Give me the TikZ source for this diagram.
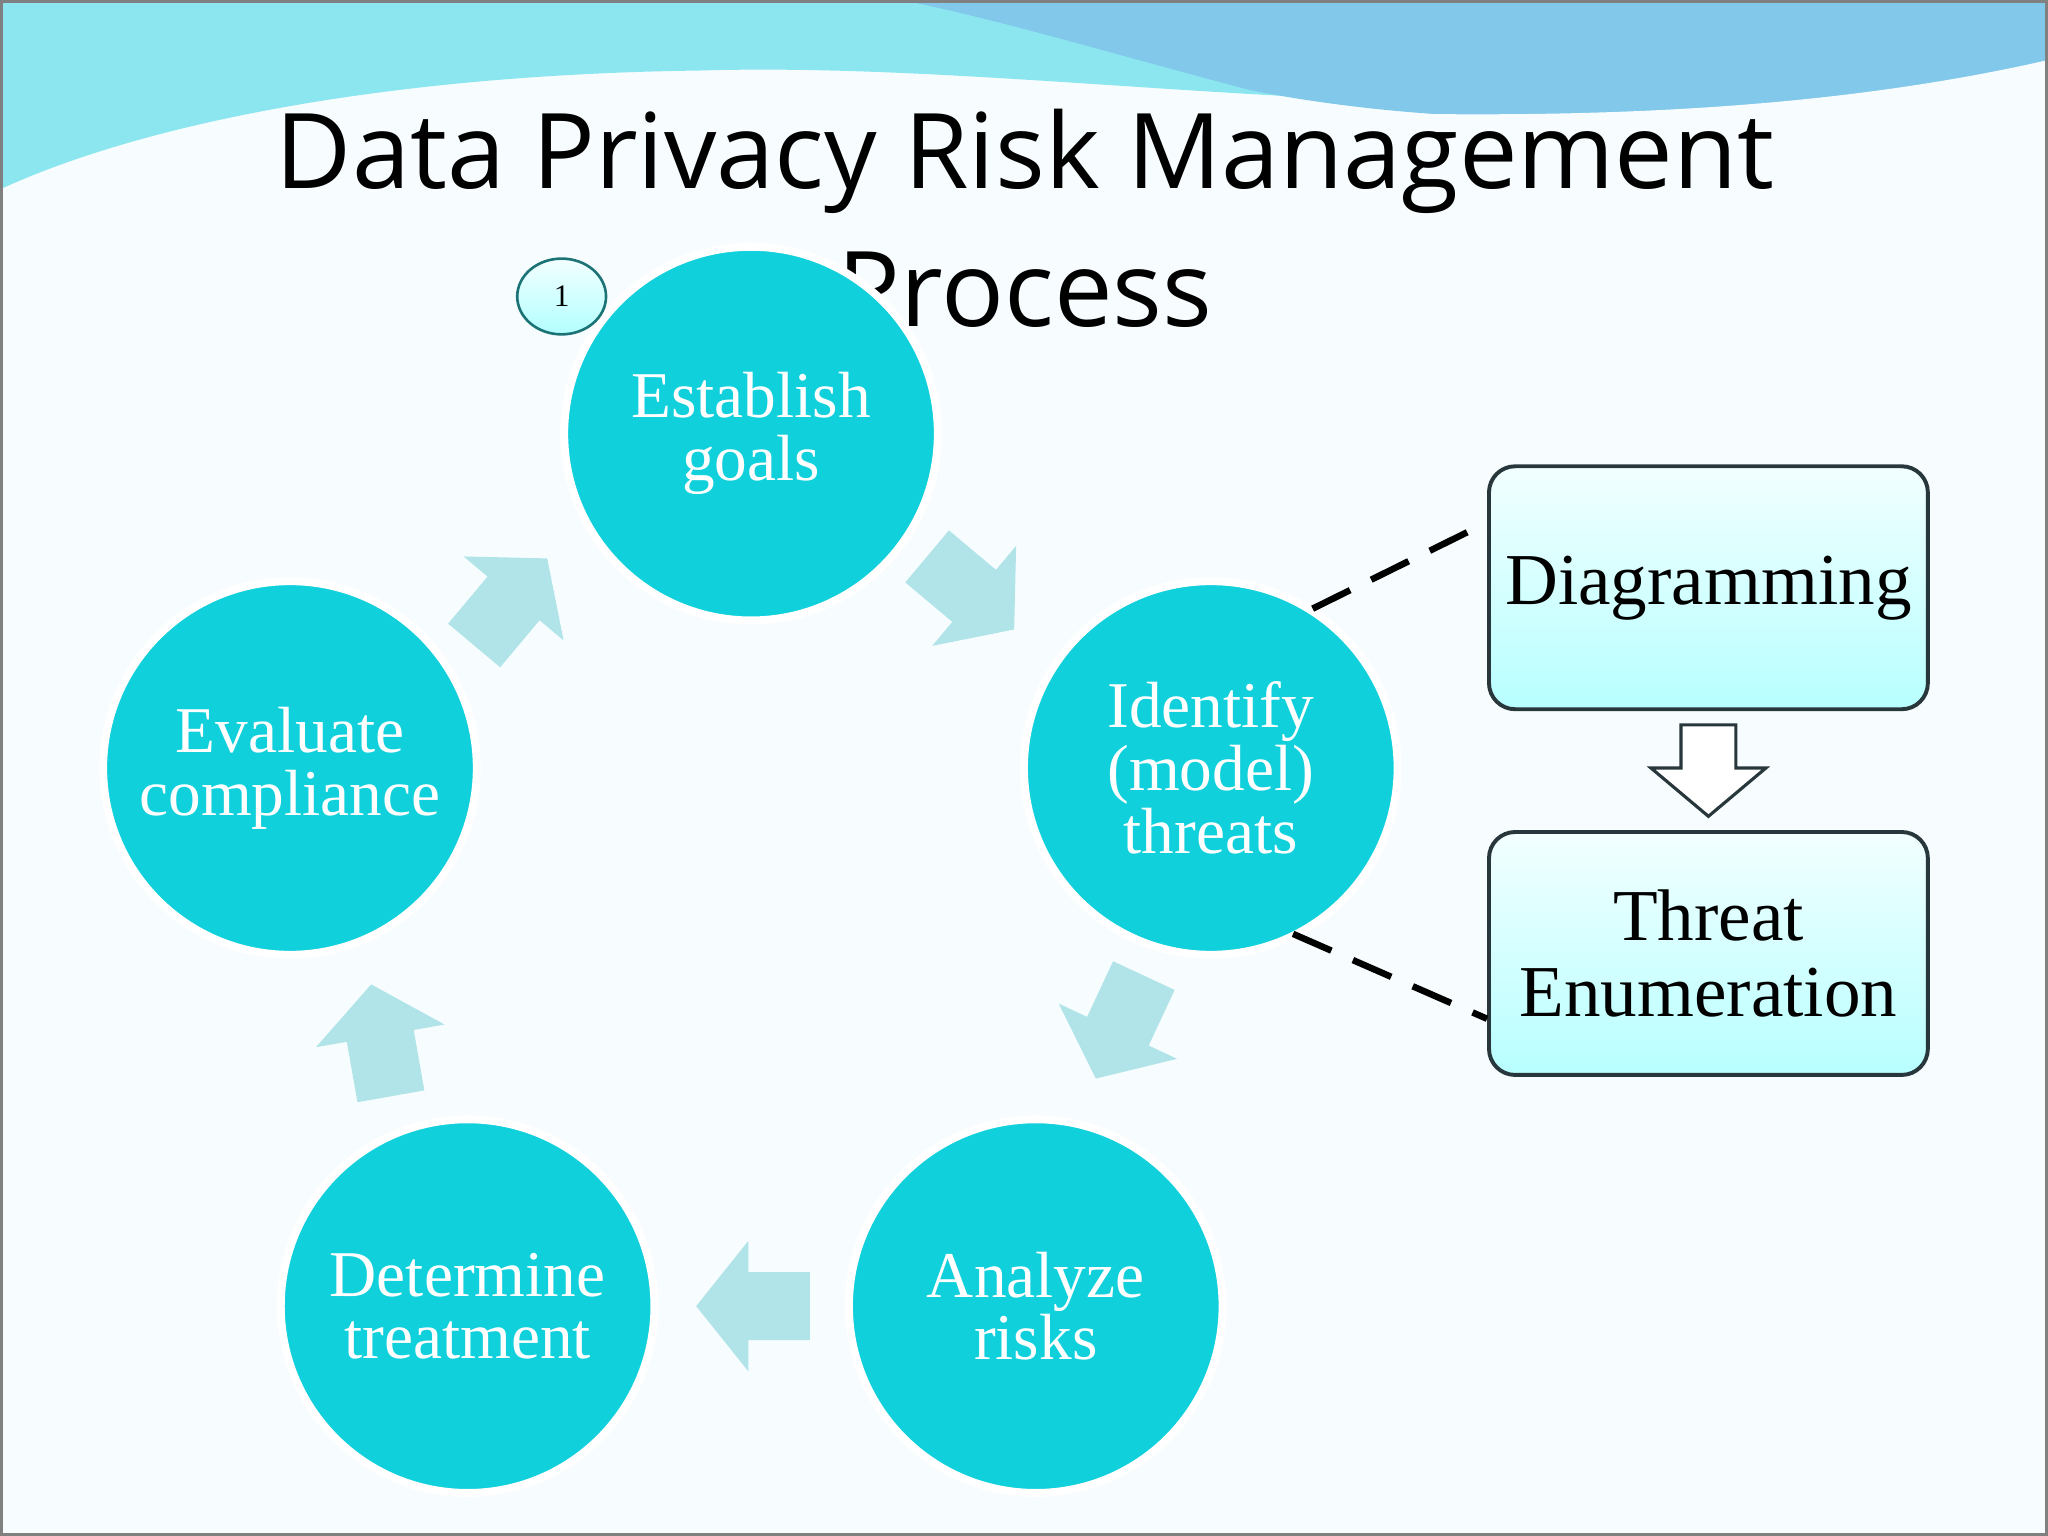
\documentclass[tikz,border=0pt]{standalone}
\usepackage{fontspec}
\setmainfont{Liberation Serif}
\newfontfamily\titlefont{Open Sans}
\usetikzlibrary{shapes.geometric}
\definecolor{circ}{RGB}{16,208,220}
\definecolor{arr}{RGB}{176,228,232}
\definecolor{wave1}{RGB}{140,230,240}
\definecolor{wave2}{RGB}{130,200,235}
\definecolor{edge}{RGB}{40,55,60}
\tikzset{
  stepcirc/.style={circle,fill=circ,draw=white,line width=3pt,minimum size=143pt,inner sep=0pt,text=white,align=center,font=\fontsize{25}{24}\selectfont},
  sidebox/.style={rounded corners=10pt,draw=edge,line width=1.5pt,top color=cyan!5,bottom color=cyan!28,minimum width=168pt,minimum height=93pt,align=center,font=\fontsize{28}{29}\selectfont},
  blockarr/.style={fill=arr,draw=none},
  dashlink/.style={line width=2.5pt,dash pattern=on 16pt off 9pt}
}
\newcommand{\barrow}[3]{\fill[blockarr,shift={(#1,#2)},rotate=#3] (-42,-26)--(5,-26)--(5,-50)--(45,0)--(5,50)--(5,26)--(-42,26)--cycle;}
\begin{document}
\begin{tikzpicture}[x=0.5pt,y=-0.5pt]
\useasboundingbox (0,0) rectangle (1568,1176);
\fill[white!97!cyan] (0,0) rectangle (1568,1176);
% waves
\fill[wave1] (0,0) -- (1568,0) -- (1568,30) .. controls (1225,130) and (840,45) .. (536,54) .. controls (306,57) and (115,92) .. (0,145) -- cycle;
\fill[wave2] (690,0) -- (1568,0) -- (1568,46) .. controls (1380,92) and (1150,107) .. (957,69) .. controls (840,38) and (765,15) .. (690,0) -- cycle;
\fill[white!97!cyan] (0,176) .. controls (153,84) and (460,54) .. (690,69) .. controls (995,88) and (1300,107) .. (1568,46) -- (1568,1176) -- (0,1176) -- cycle;
\draw[gray,line width=1pt] (1,1) rectangle (1567,1175);
% title
\node[font=\titlefont\fontsize{40}{53}\selectfont,align=center] (title) at (785,167) {Data Privacy Risk Management\\Process};
% circles
\node[stepcirc] (goals) at (575,332) {Establish\\goals};
\node[stepcirc] (ident) at (927,588) {Identify\\(model)\\threats};
\node[stepcirc] (anal) at (793,1000) {Analyze\\risks};
\node[stepcirc] (det) at (358,1000) {Determine\\treatment};
\node[stepcirc] (eval) at (222,588) {Evaluate\\compliance};
% bubble
\node[ellipse,draw=edge!70!cyan,line width=1pt,top color=cyan!5,bottom color=cyan!30,minimum width=34pt,minimum height=29pt,inner sep=0pt,font=\fontsize{12}{12}\selectfont] (one) at (430,227) {1};
% block arrows
\barrow{742}{453}{-40}
\barrow{858}{785}{-115}
\barrow{578}{1000}{180}
\barrow{292}{798}{100}
\barrow{390}{462}{50}
% side boxes
\node[sidebox] (diag) at (1308,450) {Diagramming};
\node[sidebox] (enum) at (1308,730) {Threat\\Enumeration};
\draw[fill=white,draw=edge,line width=1.2pt] (1287,555)--(1329,555)--(1329,588)--(1352,588)--(1308,625)--(1264,588)--(1287,588)--cycle;
\coordinate (d1) at (1005,466);
\coordinate (d2) at (990,715);
\draw[dashlink] (d1) -- ([yshift=25pt]diag.west);
\draw[dashlink] (d2) -- ([yshift=-25pt]enum.west);
\end{tikzpicture}
\end{document}
